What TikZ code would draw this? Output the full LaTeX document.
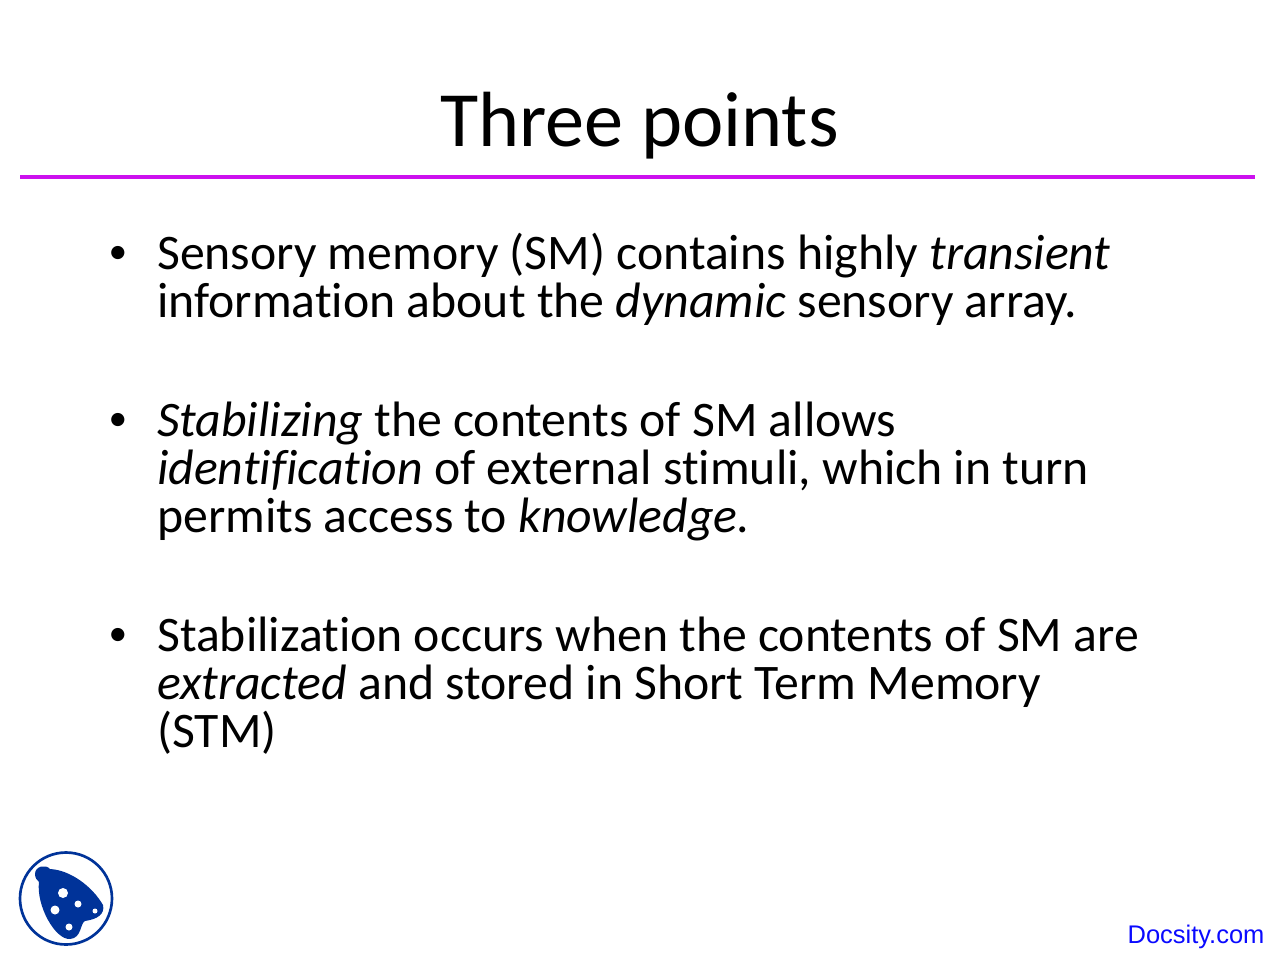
\documentclass[tikz,border=0pt]{standalone}
\usepackage{fontspec}
\setmainfont[RawFeature={-liga}]{Carlito}
\newfontfamily\liber{Liberation Sans}
\definecolor{rulepurple}{HTML}{CC11EE}
\definecolor{logoblue}{HTML}{003399}
\definecolor{docblue}{HTML}{0A0AFF}
\tikzset{x=0.75pt,y=-0.75pt,
 body/.style={anchor=base west,inner sep=0,font=\fontsize{37.3}{40}\selectfont},
 bul/.style={anchor=base,inner sep=0,font=\fontsize{28}{30}\selectfont}}
\begin{document}
\begin{tikzpicture}
\useasboundingbox (0,0) rectangle (1280,960);
\fill[white] (0,0) rectangle (1280,960);
\node[anchor=base,inner sep=0,font=\fontsize{58.7}{60}\selectfont] (title) at (639.5,146) {Three points};
\draw[rulepurple,line width=3pt] (20,177) -- (1255,177);
\node[bul] (b1) at (118,263) {•};
\node[body] (l1) at (157,269.5) {Sensory memory (SM) contains highly \textit{transient}};
\node[body] (l2) at (157,317.5) {information about the \textit{dynamic} sensory array.};
\node[bul] (b2) at (118,430) {•};
\node[body] (l3) at (157,436.5) {\textit{Stabilizing} the contents of SM allows};
\node[body] (l4) at (157,484.5) {\textit{identification} of external stimuli, which in turn};
\node[body] (l5) at (157,532.5) {permits access to \textit{knowledge.}};
\node[bul] (b3) at (118,645) {•};
\node[body] (l6) at (157,651.5) {Stabilization occurs when the contents of SM are};
\node[body] (l7) at (157,699.5) {\textit{extracted} and stored in Short Term Memory};
\node[body] (l8) at (157,747.5) {(STM)};
\draw[logoblue,line width=2pt,fill=white] (66,898.5) circle (46);
\fill[logoblue] (35,874) .. controls (35,866) and (46,864) .. (50,869) .. controls (70,870) and (92,886) .. (103,905) .. controls (105,914) and (98,919) .. (85,921) .. controls (80,923) and (82,938) .. (70,939) .. controls (55,940) and (36,905) .. (39,882) .. controls (37,880) and (35,878) .. (35,874) -- cycle;
\foreach \p/\q/\r in {63/893/5,78/904/3.5,55/910/4.5,95/911/2.5,69/927/3.5}{\fill[white] (\p,\q) circle (\r);}
\node[anchor=base,inner sep=0,text=docblue,font=\liber\fontsize{19.1}{21}\selectfont] (doc) at (1196,943) {Docsity.com};
\end{tikzpicture}
\end{document}
